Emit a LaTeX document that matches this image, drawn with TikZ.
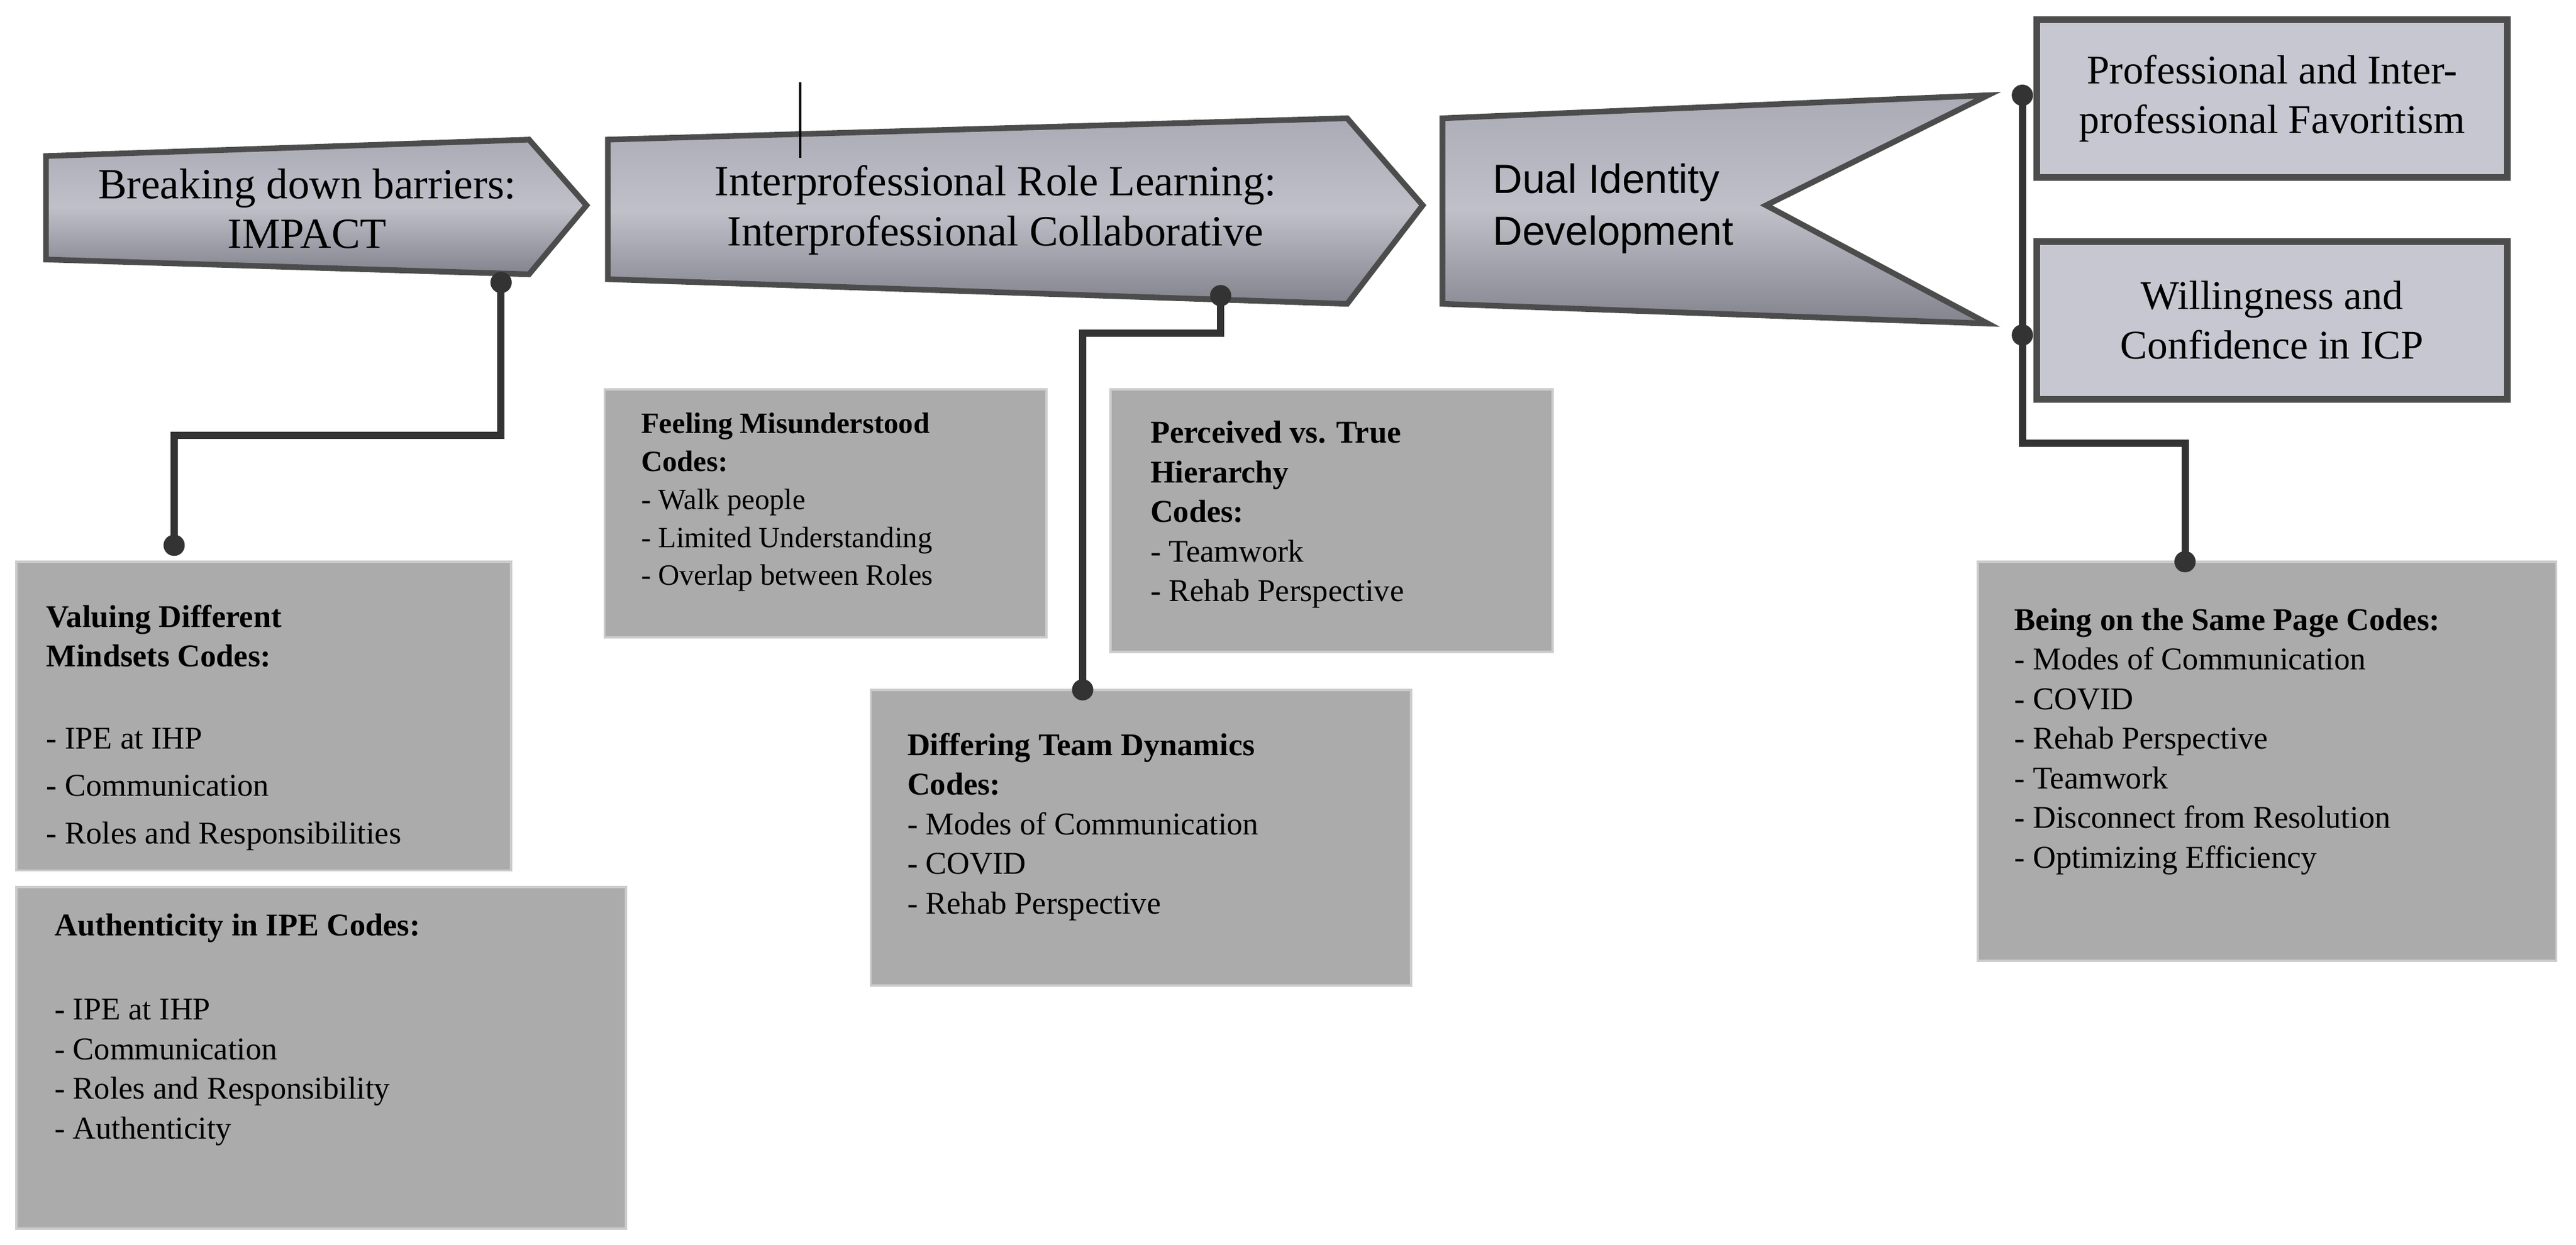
\documentclass[tikz,border=0pt]{standalone}
\usepackage{fontspec}
\setmainfont{Liberation Serif}
\newfontfamily\arialf{Liberation Sans}
\tikzset{
 arr/.style={draw=black!70,line width=2.5pt,top color=black!25!blue!10!gray!60,bottom color=black!40!blue!8!gray!90,middle color=black!20!blue!10!gray!45},
 sbox/.style={draw=black!70,line width=3pt,fill=blue!10!gray!40},
 gbox/.style={fill=black!33,draw=black!20,line width=1pt},
 conn/.style={draw=black!80,line width=3.2pt},
 dotc/.style={circle,fill=black!80,inner sep=0pt,minimum size=0.33cm},
 big/.style={font=\fontsize{19}{22}\selectfont,align=center},
 txt/.style={font=\fontsize{14}{17.5}\selectfont,align=left,anchor=north west,inner sep=0pt},
}
\begin{document}
\begin{tikzpicture}[x=0.0255cm,y=-0.0255cm]
\useasboundingbox[fill=white] (0,0) rectangle (1568,758);
% arrows
\path[arr] (28,95) -- (322,85) -- (357,125) -- (322,167) -- (28,158) -- cycle;
\node[big] (a1) at (187,127) {Breaking down barriers:\\IMPACT};
\path[arr] (370,85) -- (820,72) -- (866,125) -- (820,185) -- (370,170) -- cycle;
\node[big] (a2) at (606,128) {Interprofessional Role Learning:\\Interprofessional Collaborative};
\path[arr] (878,72) -- (1210,58) -- (1075,125) -- (1210,197) -- (878,185) -- cycle;
\node[big,font=\arialf\fontsize{18}{23}\selectfont,align=left] (a3) at (982,127) {Dual Identity\\Development};
\draw[black,line width=1pt] (487,50) -- (487,96);
% right boxes
\node[sbox,big,minimum width=7.3cm,minimum height=2.45cm,font=\fontsize{18}{22}\selectfont] (pf) at (1383,60) {Professional and Inter-\\professional Favoritism};
\node[sbox,big,minimum width=7.3cm,minimum height=2.45cm,font=\fontsize{18}{22}\selectfont] (wc) at (1383,195) {Willingness and\\Confidence in ICP};
% gray boxes
\path[gbox] (10,342) rectangle (311,530);
\path[gbox] (10,540) rectangle (381,748);
\path[gbox] (368,237) rectangle (637,388);
\path[gbox] (676,237) rectangle (945,397);
\path[gbox] (530,420) rectangle (859,600);
\path[gbox] (1204,342) rectangle (1556,585);
% texts
\node[txt] (t1) at (28,368) {\textbf{Valuing Different}\\\textbf{Mindsets Codes:}};
\node[txt] (t1b) at (28,443) {- IPE at IHP\\[0.25em]- Communication\\[0.25em]- Roles and Responsibilities};
\node[txt] (t2) at (33,556) {\textbf{Authenticity in IPE Codes:}};
\node[txt] (t2b) at (33,608) {- IPE at IHP\\- Communication\\- Roles and Responsibility\\- Authenticity};
\node[txt,font=\fontsize{13}{16.8}\selectfont] (t3) at (390,251) {\textbf{Feeling Misunderstood}\\\textbf{Codes:}\\- Walk people\\- Limited Understanding\\- Overlap between Roles};
\node[txt] (t4) at (700,256) {\textbf{Perceived vs. True}\\\textbf{Hierarchy}\\\textbf{Codes:}\\- Teamwork\\- Rehab Perspective};
\node[txt] (t5) at (552,446) {\textbf{Differing Team Dynamics}\\\textbf{Codes:}\\- Modes of Communication\\- COVID\\- Rehab Perspective};
\node[txt] (t6) at (1226,370) {\textbf{Being on the Same Page Codes:}\\- Modes of Communication\\- COVID\\- Rehab Perspective\\- Teamwork\\- Disconnect from Resolution\\- Optimizing Efficiency};
% connectors
\coordinate (d1) at (305,172); \coordinate (e1) at (106,332);
\draw[conn] (d1) -- (305,265) -- (106,265) -- (e1);
\node[dotc] at (d1) {}; \node[dotc] at (e1) {};
\coordinate (d2) at (743,180); \coordinate (e2) at (659,420);
\draw[conn] (d2) -- (743,203) -- (659,203) -- (e2);
\node[dotc] at (d2) {}; \node[dotc] at (e2) {};
\coordinate (d3) at (1231,58); \coordinate (d4) at (1231,204); \coordinate (e3) at (1330,342);
\draw[conn] (d3) -- (1231,270) -- (1330,270) -- (e3);
\node[dotc] at (d3) {}; \node[dotc] at (d4) {}; \node[dotc] at (e3) {};
\end{tikzpicture}
\end{document}
